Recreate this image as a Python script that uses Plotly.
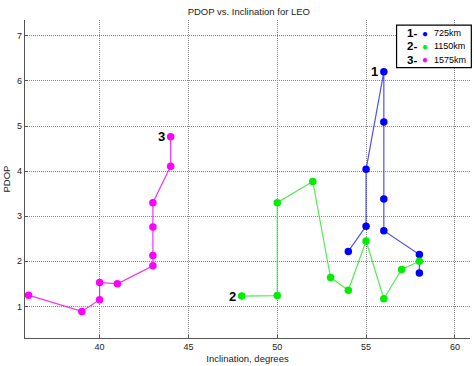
import plotly.graph_objects as go

# Data
leo1_incl = [54, 55, 55, 56, 56, 56, 56, 58, 58]
leo1_pdop = [2.22, 2.78, 4.04, 6.20, 5.09, 3.38, 2.68, 2.15, 1.74]

leo2_incl = [48, 50, 50, 52, 53, 54, 55, 56, 57, 58]
leo2_pdop = [1.23, 1.24, 3.30, 3.77, 1.64, 1.36, 2.45, 1.17, 1.82, 2.00]

leo3_incl = [36, 39, 40, 40, 41, 43, 43, 43, 43, 44, 44]
leo3_pdop = [1.25, 0.89, 1.15, 1.53, 1.50, 1.90, 2.13, 2.76, 3.30, 4.11, 4.76]

series_names = ["725km", "1150km", "1575km"]
series_tags = ["1-", "2-", "3-"]
x_ticks = [40, 45, 50, 55, 60]
y_ticks = [1, 2, 3, 4, 5, 6, 7]

marker_colors = ["#0000ff", "#00ee00", "#ff00ff"]
line_colors = ["rgba(40,40,230,0.8)", "rgba(40,230,40,0.8)", "rgba(240,0,240,0.8)"]

FONT = "Liberation Sans, Arial, sans-serif"

fig = go.Figure()
for xs, ys, mc, lc, nm in zip([leo1_incl, leo2_incl, leo3_incl],
                              [leo1_pdop, leo2_pdop, leo3_pdop],
                              marker_colors, line_colors, series_names):
    fig.add_trace(go.Scatter(x=xs, y=ys, mode="lines+markers", name=nm,
                             line=dict(color=lc, width=1.2),
                             marker=dict(color=mc, size=7.5),
                             showlegend=False))

# Labels near series ends
label_pts = [(leo1_incl[3], leo1_pdop[3], "1"),
             (leo2_incl[0], leo2_pdop[0], "2"),
             (leo3_incl[-1], leo3_pdop[-1], "3")]
for x, y, t in label_pts:
    fig.add_annotation(x=x, y=y, text="<b>%s</b>" % t, showarrow=False,
                       xanchor="right", yanchor="middle", xshift=-4,
                       font=dict(family=FONT, size=13, color="black"))

# Custom legend box
fig.add_shape(type="rect", xref="paper", yref="paper",
              x0=0.835, x1=1.003, y0=0.850, y1=0.984,
              line=dict(color="black", width=1.2), fillcolor="white", layer="above")
leg_y = [0.959, 0.917, 0.875]
for ty, tag, mc, nm in zip(leg_y, series_tags, marker_colors, series_names):
    fig.add_annotation(xref="paper", yref="paper", x=0.885, y=ty,
                       text="<b>%s</b>" % tag, showarrow=False,
                       xanchor="right", yanchor="middle",
                       font=dict(family=FONT, size=11.5, color="black"))
    fig.add_annotation(xref="paper", yref="paper", x=0.887, y=ty,
                       text="●", showarrow=False,
                       xanchor="left", yanchor="middle",
                       font=dict(family=FONT, size=10, color=mc))
    fig.add_annotation(xref="paper", yref="paper", x=0.915, y=ty,
                       text=nm, showarrow=False,
                       xanchor="left", yanchor="middle",
                       font=dict(family=FONT, size=9, color="black"))

fig.update_layout(
    width=474, height=366,
    margin=dict(l=25, r=4, t=20, b=28),
    paper_bgcolor="white", plot_bgcolor="white",
    font=dict(family=FONT, size=9, color="#222"),
    title=dict(text="PDOP vs. Inclination for LEO", x=0.525, xanchor="center",
               y=0.968, yanchor="middle", font=dict(size=9.5, family=FONT, color="#222")),
    xaxis=dict(range=[35.8, 60.85], tickvals=x_ticks, ticks="inside", ticklen=3,
               tickcolor="#555", showline=True, linecolor="#555", linewidth=1.2,
               showgrid=True, gridcolor="#888", griddash="1px,1px", gridwidth=1,
               zeroline=False, mirror=False, automargin=False,
               title=dict(text="Inclination, degrees", standoff=4, font=dict(size=9.5))),
    yaxis=dict(range=[0.3, 7.35], tickvals=y_ticks, ticks="inside", ticklen=3,
               tickcolor="#555", showline=True, linecolor="#555", linewidth=1.2,
               showgrid=True, gridcolor="#888", griddash="1px,1px", gridwidth=1,
               zeroline=False, mirror=False, automargin=False,
               title=dict(text="PDOP", standoff=4, font=dict(size=9.5))),
)

fig.write_html("out.html", config={"displayModeBar": False},
               post_script="document.body.style.margin='0';document.body.style.overflow='hidden';")
